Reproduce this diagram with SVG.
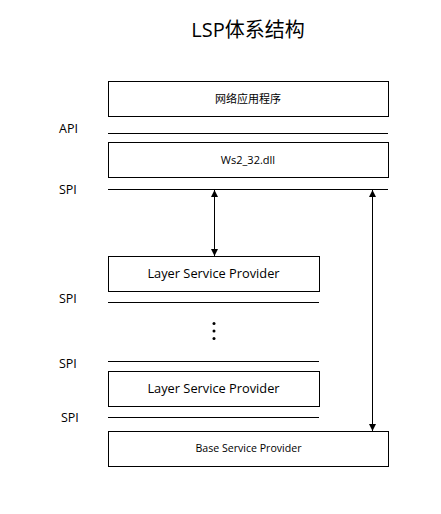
<svg xmlns="http://www.w3.org/2000/svg" width="441" height="514" viewBox="0 0 441 514">
<style>
.box{fill:#fff;stroke:#000;stroke-width:1}
.ln{stroke:#000;stroke-width:1}
text{font-family:"Open Sans","Noto Sans","Noto Sans CJK SC",sans-serif;fill:#000}
.t{font-size:12.8px;text-anchor:middle}
.lab{font-size:12.5px}
</style>
<defs>
<marker id="ah" viewBox="0 0 10 10" refX="10" refY="5" markerWidth="7" markerHeight="9" orient="auto-start-reverse" markerUnits="userSpaceOnUse">
<path d="M0,0 L10,5 L0,10 z" fill="#000"/>
</marker>
</defs>
<rect width="441" height="514" fill="#fff"/>
<text x="248" y="37" font-size="20" text-anchor="middle">LSP体系结构</text>
<g id="app"><rect class="box" x="108.5" y="81.5" width="280" height="35"/><text class="t" x="248" y="103" style="font-size:11px">网络应用程序</text></g>
<g id="ws2"><rect class="box" x="108.5" y="142.5" width="280" height="35"/><text class="t" x="248" y="164" style="font-size:11px">Ws2_32.dll</text></g>
<g id="lsp1"><rect class="box" x="108.5" y="256.5" width="211" height="35"/><text class="t" x="213.5" y="278">Layer Service Provider</text></g>
<g id="lsp2"><rect class="box" x="108.5" y="371.5" width="211" height="35"/><text class="t" x="213.5" y="393">Layer Service Provider</text></g>
<g id="base"><rect class="box" x="108.5" y="431.5" width="280" height="35"/><text class="t" x="248.5" y="452" style="font-size:10.6px">Base Service Provider</text></g>
<g id="labels">
<line class="ln" x1="108" y1="133.5" x2="388" y2="133.5"/>
<line class="ln" x1="108" y1="189.5" x2="388" y2="189.5"/>
<line class="ln" x1="108" y1="302.5" x2="319" y2="302.5"/>
<line class="ln" x1="108" y1="361.5" x2="319" y2="361.5"/>
<line class="ln" x1="108" y1="417.5" x2="319" y2="417.5"/>
<text class="lab" x="59" y="133">API</text>
<text class="lab" x="59" y="194">SPI</text>
<text class="lab" x="59" y="303">SPI</text>
<text class="lab" x="59" y="368">SPI</text>
<text class="lab" x="61" y="422">SPI</text>
<circle cx="214" cy="323.5" r="1.5"/>
<circle cx="214" cy="331" r="1.5"/>
<circle cx="214" cy="338.5" r="1.5"/>
</g>
<g id="connectors">
<line class="ln" x1="214.5" y1="190" x2="214.5" y2="256" marker-start="url(#ah)" marker-end="url(#ah)"/>
<line class="ln" x1="372.5" y1="190" x2="372.5" y2="431" marker-start="url(#ah)" marker-end="url(#ah)"/>
</g>
</svg>
